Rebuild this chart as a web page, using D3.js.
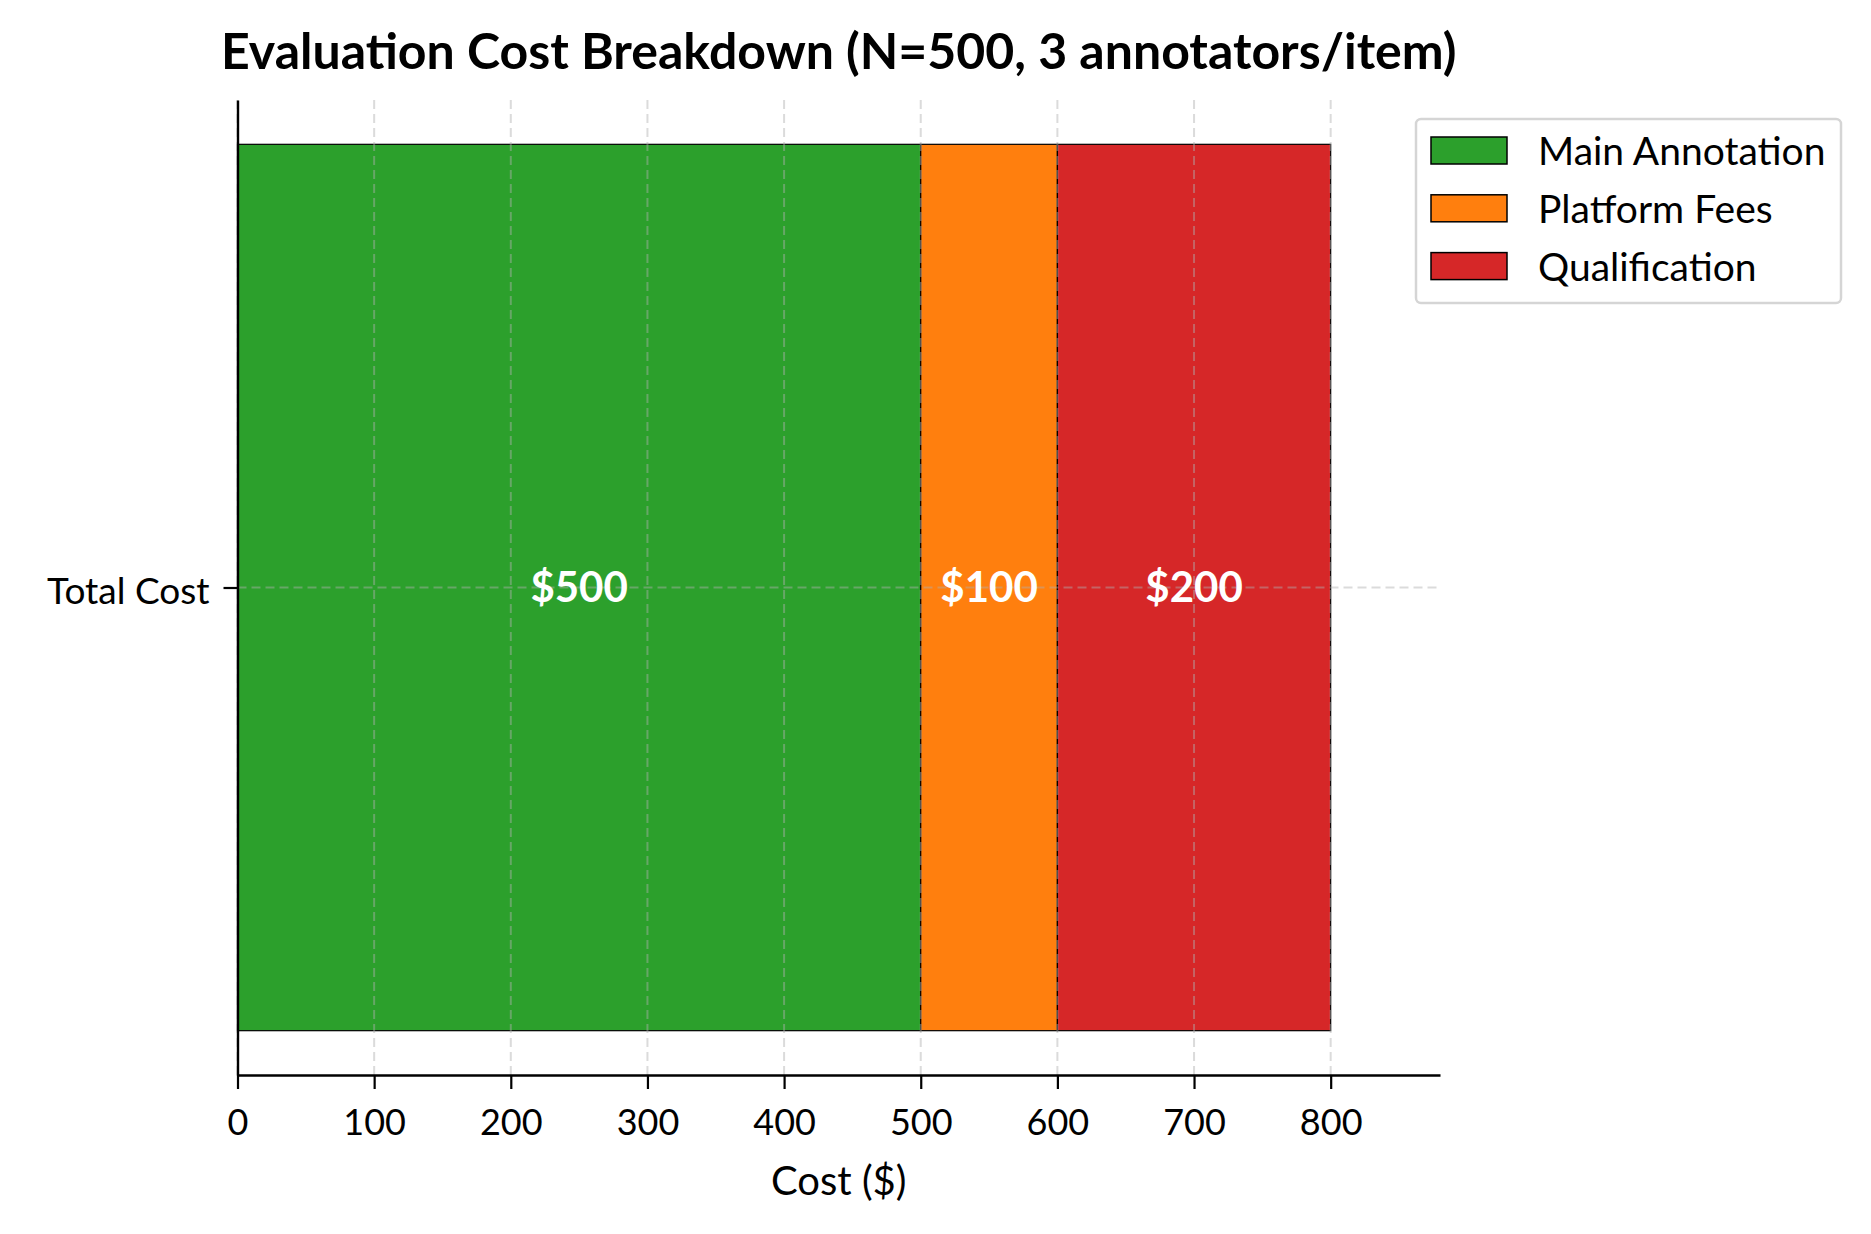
<!DOCTYPE html>
<html>
<head>
<meta charset="utf-8">
<script src="https://cdn.jsdelivr.net/npm/d3@7"></script>
<style>
  body { margin: 0; background: #fff; }
  text { font-family: Lato, "Open Sans", sans-serif; }
</style>
</head>
<body>
<svg id="chart" width="1871" height="1234"></svg>
<script>
// data
var categories = ["Total Cost"];
var segments = ["Main Annotation", "Platform Fees", "Qualification"];
var segValues = [500, 100, 200];
var segColors = ["#2ca02c", "#ff7f0e", "#d62728"];
var xTicks = [0, 100, 200, 300, 400, 500, 600, 700, 800];

var W = 1871, H = 1234;
var margin = {left: 237.5, right: 431, top: 100, bottom: 159};

var svg = d3.select("#chart");

var x = d3.scaleLinear().domain([0, 880]).range([margin.left, W - margin.right]);
// bar height 0.8, ylim +/-0.44 like matplotlib
var y = d3.scaleLinear().domain([0.44, -0.44]).range([margin.top, H - margin.bottom]);

// stacked segments
var stack = [];
var acc = 0;
segValues.forEach(function(v, i) {
  stack.push({name: segments[i], v0: acc, v1: acc + v, value: v, color: segColors[i]});
  acc += v;
});

var bars = svg.append("g");
bars.selectAll("rect")
  .data(stack)
  .enter()
  .append("rect")
  .attr("x", function(d) { return x(d.v0); })
  .attr("width", function(d) { return x(d.v1) - x(d.v0); })
  .attr("y", y(0.4))
  .attr("height", y(-0.4) - y(0.4))
  .attr("fill", function(d) { return d.color; })
  .attr("stroke", "#000")
  .attr("stroke-width", 1.2);

// grid (drawn on top like the original)
var grid = svg.append("g").attr("stroke", "#b0b0b0").attr("stroke-opacity", 0.45)
  .attr("stroke-width", 2).attr("stroke-dasharray", "9,5");
grid.selectAll("line.gx")
  .data(xTicks)
  .enter()
  .append("line")
  .attr("x1", function(d) { return x(d); })
  .attr("x2", function(d) { return x(d); })
  .attr("y1", margin.top)
  .attr("y2", H - margin.bottom);
grid.append("line")
  .attr("x1", margin.left).attr("x2", W - margin.right)
  .attr("y1", y(0)).attr("y2", y(0));

// value labels
svg.append("g").selectAll("text")
  .data(stack)
  .enter()
  .append("text")
  .attr("x", function(d) { return x((d.v0 + d.v1) / 2); })
  .attr("y", y(0) + 14)
  .attr("text-anchor", "middle")
  .attr("font-size", "42px")
  .attr("font-weight", "bold")
  .attr("fill", "#fff")
  .text(function(d) { return "$" + d.value; });

// axes
var xAxis = d3.axisBottom(x).tickValues(xTicks).tickSize(14).tickSizeOuter(0);
var gx = svg.append("g")
  .attr("transform", "translate(0," + (H - margin.bottom) + ")")
  .call(xAxis);
gx.select(".domain").attr("stroke-width", 2.4);
gx.selectAll(".tick line").attr("stroke-width", 2.2);
gx.selectAll("text")
  .attr("y", 60).attr("dy", 0)
  .attr("font-size", "36px").attr("fill", "#000").style("font-family", "Lato, sans-serif");

var yAxis = d3.axisLeft(y).tickValues([0]).tickFormat(function(d, i) { return categories[i]; })
  .tickSize(14).tickSizeOuter(0);
var gy = svg.append("g")
  .attr("transform", "translate(" + margin.left + ",0)")
  .call(yAxis);
gy.select(".domain").attr("stroke-width", 2.4);
gy.selectAll(".tick line").attr("stroke-width", 2.2);
gy.selectAll("text")
  .attr("x", -28).attr("dy", 0).attr("y", 16)
  .attr("font-size", "37px").attr("fill", "#000").style("font-family", "Lato, sans-serif");

// labels
svg.append("text")
  .attr("x", (margin.left + W - margin.right) / 2)
  .attr("y", 69)
  .attr("text-anchor", "middle")
  .attr("font-size", "50px")
  .attr("font-weight", "bold")
  .text("Evaluation Cost Breakdown (N=500, 3 annotators/item)");

svg.append("text")
  .attr("x", (margin.left + W - margin.right) / 2)
  .attr("y", 1195)
  .attr("text-anchor", "middle")
  .attr("font-size", "40px")
  .text("Cost ($)");

// legend
var legend = svg.append("g").attr("class", "legend");
legend.append("rect")
  .attr("x", 1416).attr("y", 119)
  .attr("width", 425).attr("height", 184)
  .attr("rx", 5)
  .attr("fill", "#fff")
  .attr("stroke", "#d5d5d5")
  .attr("stroke-width", 2.5);
legend.selectAll("rect.sw")
  .data(stack)
  .enter()
  .append("rect")
  .attr("class", "sw")
  .attr("x", 1431)
  .attr("y", function(d, i) { return 137 + i * 57.8; })
  .attr("width", 76)
  .attr("height", 27)
  .attr("fill", function(d) { return d.color; })
  .attr("stroke", "#000")
  .attr("stroke-width", 1.5);
legend.selectAll("text")
  .data(stack)
  .enter()
  .append("text")
  .attr("x", 1538)
  .attr("y", function(d, i) { return 165 + i * 57.8; })
  .attr("font-size", "39px")
  .text(function(d) { return d.name; });
</script>
</body>
</html>
